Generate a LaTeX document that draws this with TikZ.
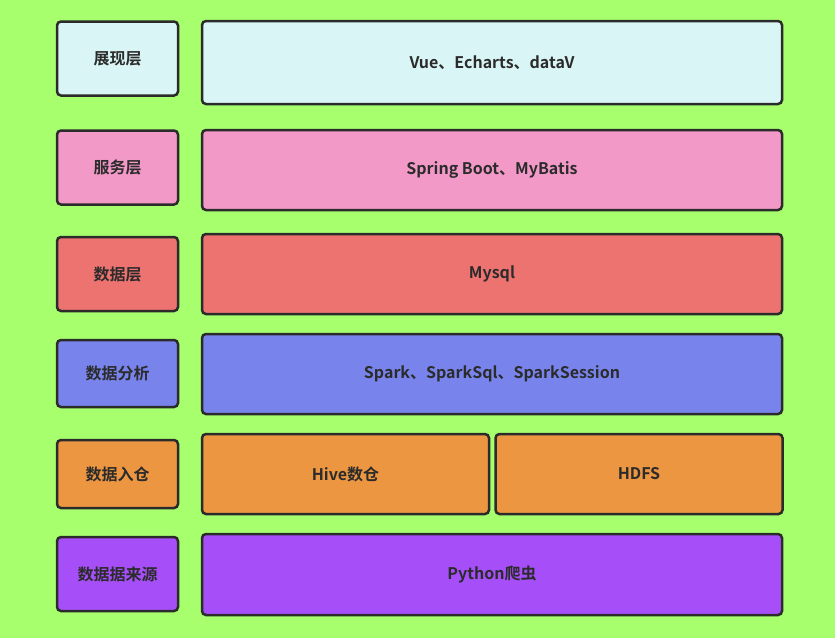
\documentclass[tikz,border=0pt]{standalone}
\usepackage{fontspec}
\setmainfont{Noto Sans CJK SC}[BoldFont={* Bold}]
\definecolor{bgc}{HTML}{A8FF6E}
\definecolor{cshow}{HTML}{DAF5F5}
\definecolor{cserv}{HTML}{F299C8}
\definecolor{cdata}{HTML}{EC7370}
\definecolor{cana}{HTML}{7884EC}
\definecolor{cware}{HTML}{EC9642}
\definecolor{csrc}{HTML}{A64FF8}
\definecolor{edge}{HTML}{2B2B2B}
\tikzset{
  box/.style={draw=edge, line width=2.5pt, rounded corners=4pt, fill=#1,
    text=edge, font=\bfseries\fontsize{16}{18}\selectfont, inner sep=0pt},
  tag/.style={box=#1, minimum width=121pt, minimum height=74pt},
  wide/.style={box=#1, minimum width=580pt, minimum height=80pt},
  half/.style={box=#1, minimum width=287pt, minimum height=80pt}
}
\begin{document}
\begin{tikzpicture}[x=1pt,y=-1pt]
% background
\fill[bgc] (0,0) rectangle (835,638);
\useasboundingbox (0,0) rectangle (835,638);
% layer names
\node[tag=cshow] (show) at (117.5,58.5) {展现层};
\node[tag=cserv] (serv) at (117.5,167.5) {服务层};
\node[tag=cdata] (data) at (117.5,274) {数据层};
\node[tag=cana, minimum height=67pt] (ana) at (117.5,373.5) {数据分析};
\node[tag=cware, minimum height=68pt] (ware) at (117.5,474) {数据入仓};
\node[tag=csrc] (src) at (117.5,574) {数据据来源};
% contents
\node[wide=cshow, minimum height=83pt] (vue) at (492,62.5) {Vue、Echarts、dataV};
\node[wide=cserv] (spring) at (492,170) {Spring Boot、MyBatis};
\node[wide=cdata] (mysql) at (492,274) {Mysql};
\node[wide=cana] (spark) at (492,374) {Spark、SparkSql、SparkSession};
\node[half=cware] (hive) at (345.5,474) {Hive数仓};
\node[half=cware] (hdfs) at (639,474) {HDFS};
\node[wide=csrc, minimum height=81pt] (py) at (492,574.5) {Python爬虫};
\end{tikzpicture}
\end{document}
